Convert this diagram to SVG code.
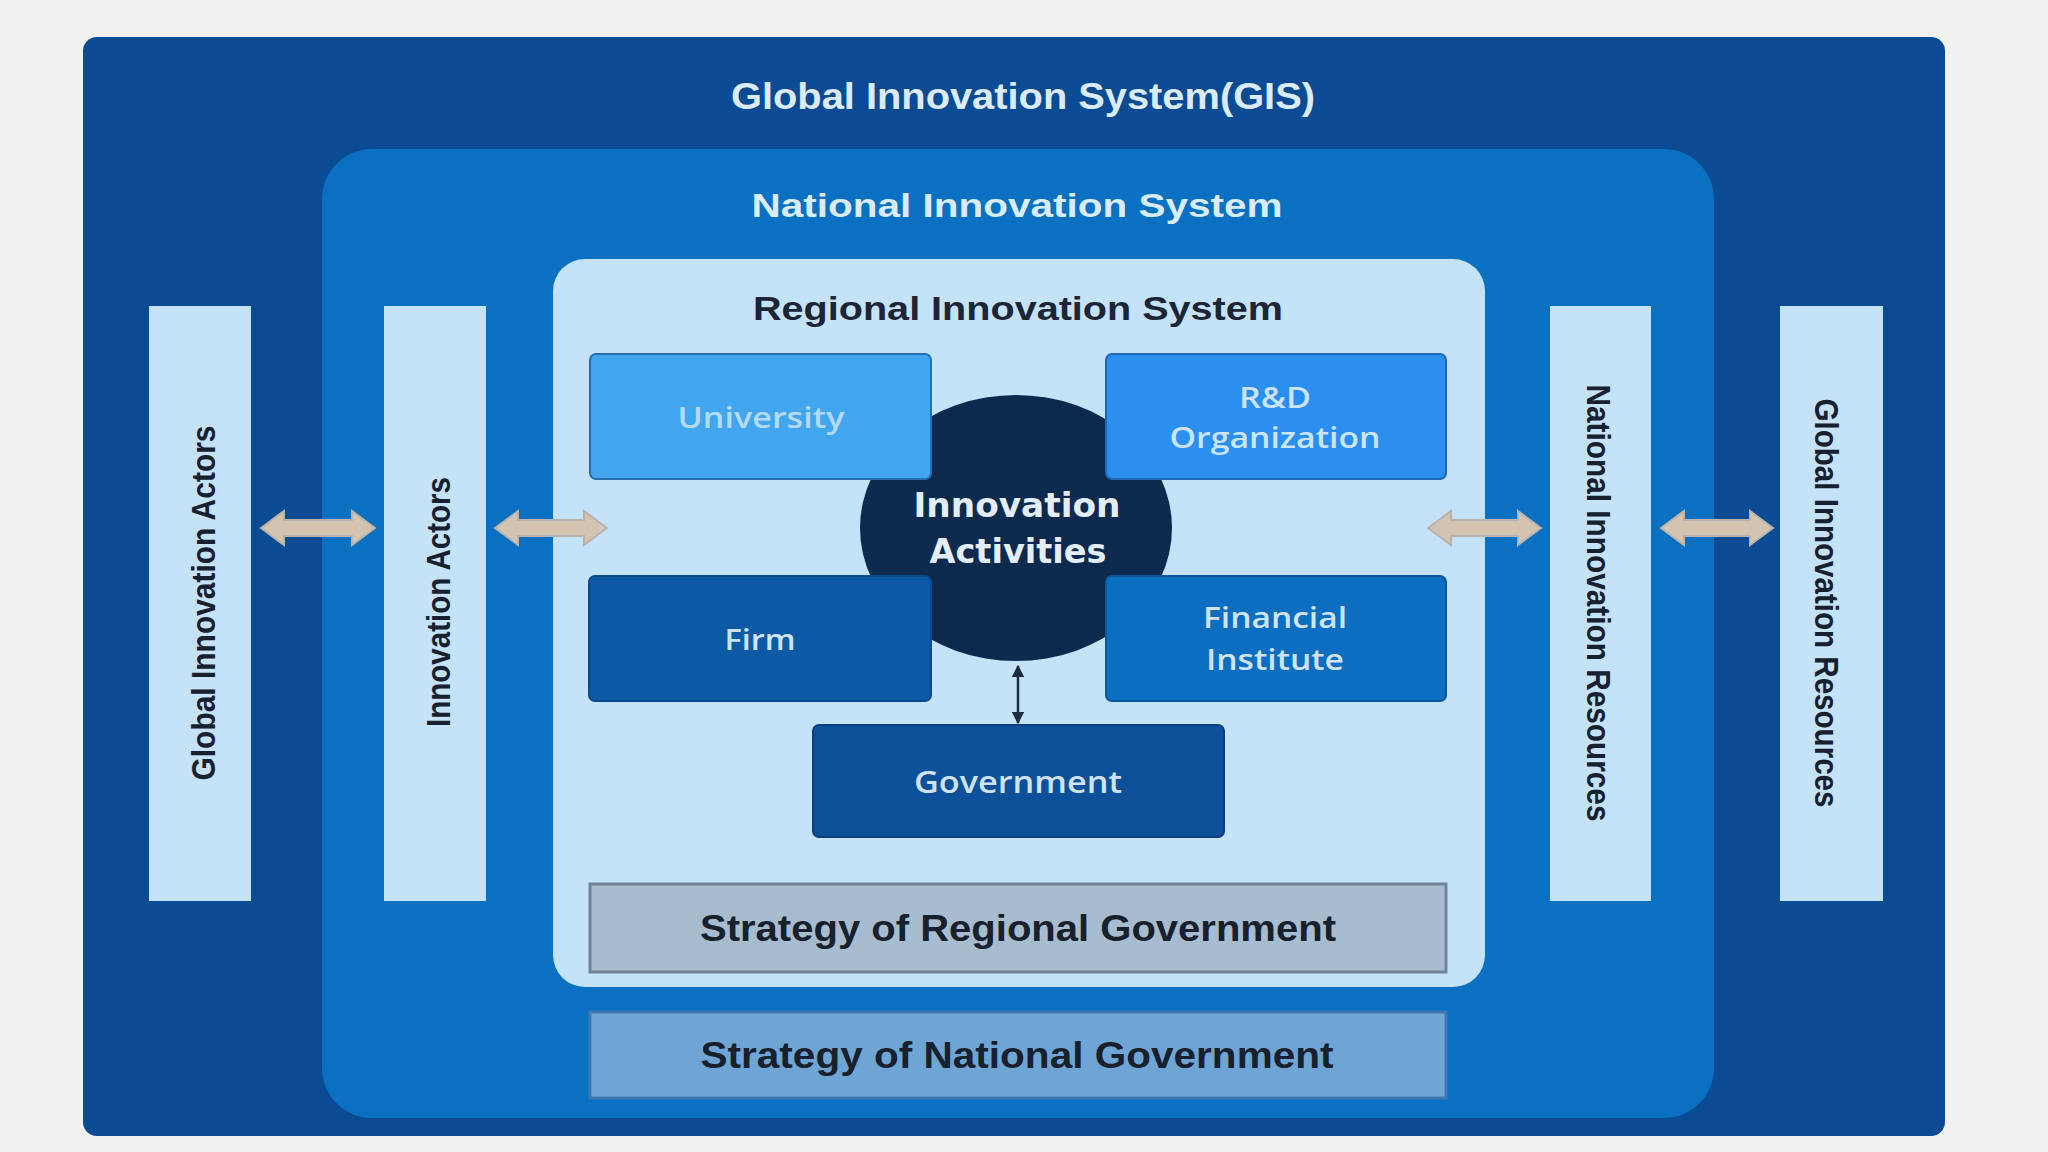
<svg xmlns="http://www.w3.org/2000/svg" width="2048" height="1152" viewBox="0 0 2048 1152">
<defs>
<style>
.hdr{font-family:"Liberation Sans",Arial,sans-serif;font-weight:700;text-anchor:middle}
.lbl{font-family:"Open Sans","Liberation Sans",Arial,sans-serif;font-weight:600;text-anchor:middle}
.act{font-family:"DejaVu Sans",Verdana,sans-serif;font-weight:700;text-anchor:middle;fill:#e4eef8}
.bar{fill:#c4e2f8}
.vt{font-family:"Liberation Sans",Arial,sans-serif;font-weight:700;text-anchor:middle;fill:#16202e;font-size:34px}
.box{stroke-width:2}
.dbl{fill:#d3c4b2;stroke:#b9b3ab;stroke-width:2}
</style>
<marker id="ah" viewBox="0 0 10 10" refX="9" refY="5" markerWidth="5" markerHeight="5" orient="auto-start-reverse">
<path d="M0,0 L10,5 L0,10 Z" fill="#1c2b3f"/>
</marker>
</defs>
<rect x="0" y="0" width="2048" height="1152" fill="#f1f1f0"/>

<g id="gis">
<rect x="83" y="37" width="1862" height="1099" rx="14" fill="#0b4b93"/>
<text class="hdr" x="1023" y="109" font-size="37" fill="#dcebf8" textLength="584" lengthAdjust="spacingAndGlyphs">Global Innovation System(GIS)</text>
</g>

<g id="nis">
<rect x="322" y="149" width="1392" height="969" rx="50" fill="#0a70c1"/>
<text class="hdr" x="1017" y="217" font-size="34" fill="#d9ecfa" textLength="531" lengthAdjust="spacingAndGlyphs">National Innovation System</text>
</g>

<g id="ris">
<rect x="553" y="259" width="932" height="728" rx="32" fill="#c4e2f8"/>
<text class="hdr" x="1018" y="320" font-size="34" fill="#1b2535" textLength="530" lengthAdjust="spacingAndGlyphs">Regional Innovation System</text>
</g>

<g id="global-actors">
<rect class="bar" x="149" y="306" width="102" height="595"/>
<text class="vt" transform="translate(215,603) rotate(-90)" textLength="355" lengthAdjust="spacingAndGlyphs">Global Innovation Actors</text>
</g>
<g id="innovation-actors">
<rect class="bar" x="384" y="306" width="102" height="595"/>
<text class="vt" transform="translate(450,602) rotate(-90)" textLength="250" lengthAdjust="spacingAndGlyphs">Innovation Actors</text>
</g>
<g id="national-resources">
<rect class="bar" x="1550" y="306" width="101" height="595"/>
<text class="vt" transform="translate(1587,603) rotate(90)" textLength="437" lengthAdjust="spacingAndGlyphs">National Innovation Resources</text>
</g>
<g id="global-resources">
<rect class="bar" x="1780" y="306" width="103" height="595"/>
<text class="vt" transform="translate(1815,603) rotate(90)" textLength="409" lengthAdjust="spacingAndGlyphs">Global Innovation Resources</text>
</g>

<g id="innovation-activities">
<ellipse cx="1016" cy="528" rx="156" ry="133" fill="#0c2a4d"/>
</g>

<g id="university">
<rect class="box" x="590" y="354" width="341" height="125" rx="6" fill="#42a6ef" stroke="#2a6db3"/>
<text class="lbl" x="761" y="428" font-size="29" fill="#b3dbf8" textLength="167" lengthAdjust="spacingAndGlyphs">University</text>
</g>
<g id="rnd">
<rect class="box" x="1106" y="354" width="340" height="125" rx="6" fill="#2b8ff0" stroke="#1f66b4"/>
<text class="lbl" x="1275" y="408" font-size="29" fill="#cbe4fa" textLength="72" lengthAdjust="spacingAndGlyphs">R&amp;D</text>
<text class="lbl" x="1275" y="448" font-size="29" fill="#cbe4fa" textLength="211" lengthAdjust="spacingAndGlyphs">Organization</text>
</g>
<g id="firm">
<rect class="box" x="589" y="576" width="342" height="125" rx="6" fill="#0c5aa6" stroke="#0a4a8a"/>
<text class="lbl" x="760" y="650" font-size="29" fill="#cfe3f5" textLength="71" lengthAdjust="spacingAndGlyphs">Firm</text>
</g>
<g id="financial">
<rect class="box" x="1106" y="576" width="340" height="125" rx="6" fill="#0b6ec1" stroke="#0a579c"/>
<text class="lbl" x="1275" y="628" font-size="29" fill="#cfe3f5" textLength="144" lengthAdjust="spacingAndGlyphs">Financial</text>
<text class="lbl" x="1275" y="670" font-size="29" fill="#cfe3f5" textLength="138" lengthAdjust="spacingAndGlyphs">Institute</text>
</g>

<g id="activities-label">
<text class="act" x="1017" y="517" font-size="33" textLength="207" lengthAdjust="spacingAndGlyphs">Innovation</text>
<text class="act" x="1018" y="563" font-size="33" textLength="177" lengthAdjust="spacingAndGlyphs">Activities</text>
</g>

<g id="government">
<rect class="box" x="813" y="725" width="411" height="112" rx="6" fill="#0b5098" stroke="#0a3f7a"/>
<text class="lbl" x="1018" y="793" font-size="30" fill="#cfe3f5" textLength="208" lengthAdjust="spacingAndGlyphs">Government</text>
</g>

<g id="strategy-regional">
<rect x="590" y="884" width="856" height="88" fill="#a7bccf" stroke="#6f8396" stroke-width="3"/>
<text class="hdr" x="1018" y="941" font-size="37" fill="#17202c" textLength="636" lengthAdjust="spacingAndGlyphs">Strategy of Regional Government</text>
</g>
<g id="strategy-national">
<rect x="590" y="1012" width="856" height="86" fill="#6ea5d4" stroke="#3f79ad" stroke-width="3"/>
<text class="hdr" x="1017" y="1068" font-size="37" fill="#17202c" textLength="633" lengthAdjust="spacingAndGlyphs">Strategy of National Government</text>
</g>

<g id="connectors">
<path class="dbl" d="M261,528 L284,511 L284,520 L352,520 L352,511 L375,528 L352,545 L352,536 L284,536 L284,545 Z"/>
<path class="dbl" d="M495,528 L518,511 L518,520 L584,520 L584,511 L607,528 L584,545 L584,536 L518,536 L518,545 Z"/>
<path class="dbl" d="M1428,528 L1451,511 L1451,520 L1518,520 L1518,511 L1541,528 L1518,545 L1518,536 L1451,536 L1451,545 Z"/>
<path class="dbl" d="M1661,528 L1684,511 L1684,520 L1750,520 L1750,511 L1773,528 L1750,545 L1750,536 L1684,536 L1684,545 Z"/>
<line x1="1018" y1="666" x2="1018" y2="723" stroke="#1c2b3f" stroke-width="2.5" marker-start="url(#ah)" marker-end="url(#ah)"/>
</g>
</svg>
